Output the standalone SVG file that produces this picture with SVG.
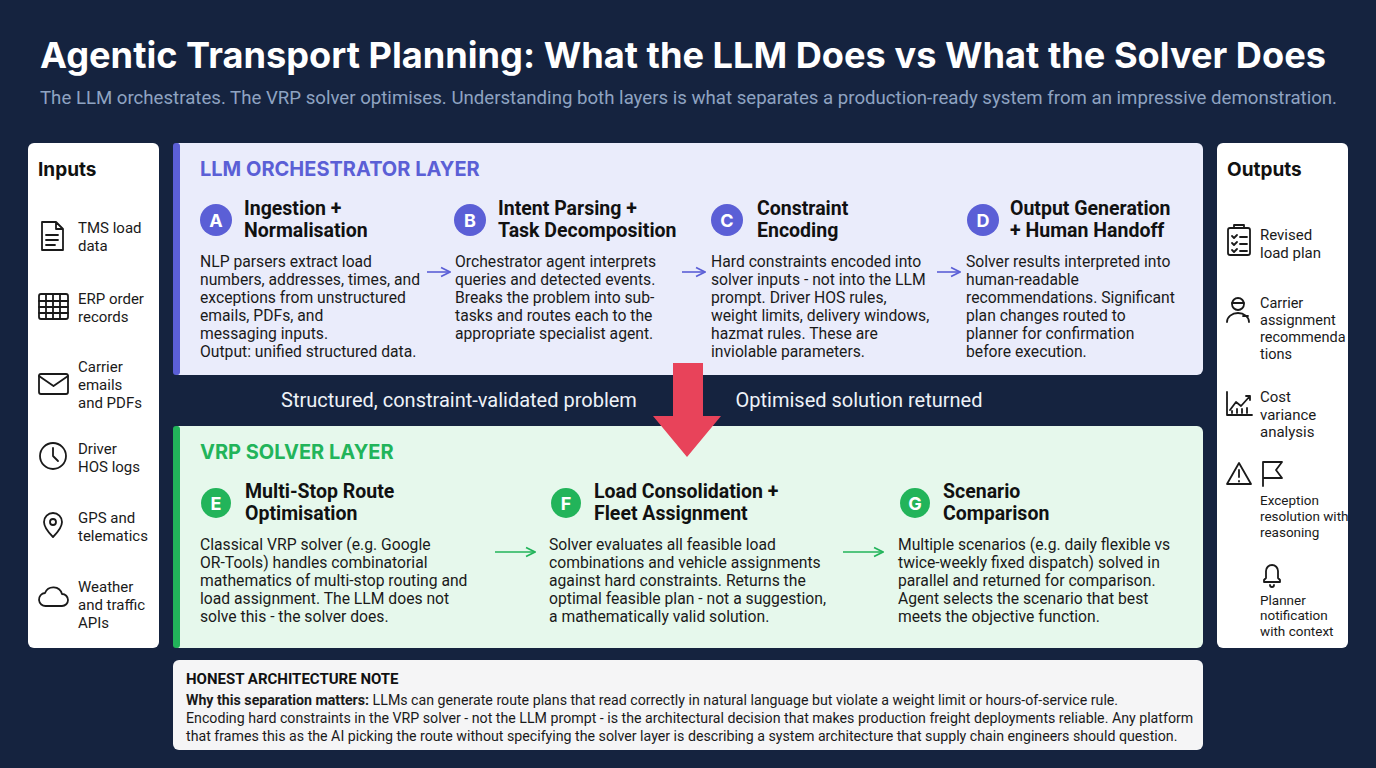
<svg xmlns="http://www.w3.org/2000/svg" width="1376" height="768" viewBox="0 0 1376 768">
<style>
.t{font-family:Inter,"Liberation Sans",sans-serif;font-weight:700}
.b{font-family:Roboto,"Liberation Sans",sans-serif;fill:#1a1a1a}
.h{font-family:Roboto,"Liberation Sans",sans-serif;font-weight:700;font-size:19.5px;fill:#111}
.body{font-size:15.7px}
.side{font-size:15px}
.ic{fill:none;stroke:#1a1a1a;stroke-width:1.8;stroke-linecap:round;stroke-linejoin:round}
.cl{font-family:Inter,"Liberation Sans",sans-serif;font-weight:700;font-size:18px;fill:#fff}
</style>
<defs>
<marker id="ap" viewBox="0 0 10 10" refX="9" refY="5" markerWidth="7" markerHeight="7" orient="auto"><path d="M1 1L9 5L1 9" fill="none" stroke="#5b5fd6" stroke-width="1.5"/></marker>
<marker id="ag" viewBox="0 0 10 10" refX="9" refY="5" markerWidth="7" markerHeight="7" orient="auto"><path d="M1 1L9 5L1 9" fill="none" stroke="#22b45a" stroke-width="1.5"/></marker>
</defs>
<rect width="1376" height="768" fill="#15233f"/>
<text x="40" y="68" class="t" font-size="36" fill="#fff" textLength="1286" lengthAdjust="spacingAndGlyphs">Agentic Transport Planning: What the LLM Does vs What the Solver Does</text>
<text x="40" y="104" font-family="Roboto,'Liberation Sans',sans-serif" font-size="18.5" fill="#8fa3c2" textLength="1297" lengthAdjust="spacingAndGlyphs">The LLM orchestrates. The VRP solver optimises. Understanding both layers is what separates a production-ready system from an impressive demonstration.</text>

<g id="inputs">
<rect x="28" y="143" width="131" height="505" rx="6" fill="#fff"/>
<text x="38" y="176" class="t" font-size="19" fill="#111">Inputs</text>
<path class="ic" d="M42 222h14l7 7v21h-21zM56 222v7h7M46 235h12M46 240h12M46 245h9"/>
<text class="b side"><tspan x="78" y="233">TMS load</tspan><tspan x="78" y="251">data</tspan></text>
<rect class="ic" x="39" y="294" width="29" height="25" rx="2"/><path class="ic" d="M39 301h29M39 307h29M39 313h29M46 294v25M53 294v25M60 294v25"/>
<text class="b side"><tspan x="78" y="304">ERP order</tspan><tspan x="78" y="322">records</tspan></text>
<rect class="ic" x="39" y="374" width="29" height="20" rx="2"/><path class="ic" d="M39 376l14.5 10l14.5-10"/>
<text class="b side"><tspan x="78" y="372">Carrier</tspan><tspan x="78" y="390">emails</tspan><tspan x="78" y="408">and PDFs</tspan></text>
<circle class="ic" cx="53" cy="456" r="13"/><path class="ic" d="M53 448v8l5 5"/>
<text class="b side"><tspan x="78" y="454">Driver</tspan><tspan x="78" y="472">HOS logs</tspan></text>
<path class="ic" d="M53 537s-9-9-9-15a9 9 0 0 1 18 0c0 6-9 15-9 15z"/><circle class="ic" cx="53" cy="522" r="3"/>
<text class="b side"><tspan x="78" y="523">GPS and</tspan><tspan x="78" y="541">telematics</tspan></text>
<path class="ic" d="M46 606h16a6 6 0 0 0 0-12a9 9 0 0 0-17-1a6 6 0 0 0 1 13z"/>
<text class="b side"><tspan x="78" y="592">Weather</tspan><tspan x="78" y="610">and traffic</tspan><tspan x="78" y="628">APIs</tspan></text>
</g>

<g id="llm-layer">
<rect x="173" y="143" width="1030" height="232" rx="6" fill="#eaecfb"/>
<rect x="173" y="143" width="7" height="232" rx="3" fill="#5b5fd6"/>
<text x="200" y="176" class="t" font-size="20" fill="#5b5fd6">LLM ORCHESTRATOR LAYER</text>
</g>
<g id="A"><circle cx="216" cy="220" r="16" fill="#5b5fd6"/><text x="216" y="226.5" text-anchor="middle" class="cl">A</text>
<text class="h"><tspan x="244" y="215">Ingestion +</tspan><tspan x="244" y="237">Normalisation</tspan></text>
<text class="b body"><tspan x="200" y="267">NLP parsers extract load</tspan><tspan x="200" y="285">numbers, addresses, times, and</tspan><tspan x="200" y="303">exceptions from unstructured</tspan><tspan x="200" y="321">emails, PDFs, and</tspan><tspan x="200" y="339">messaging inputs.</tspan><tspan x="200" y="357">Output: unified structured data.</tspan></text></g>
<g id="B"><circle cx="470" cy="220" r="16" fill="#5b5fd6"/><text x="470" y="226.5" text-anchor="middle" class="cl">B</text>
<text class="h"><tspan x="498" y="215">Intent Parsing +</tspan><tspan x="498" y="237">Task Decomposition</tspan></text>
<text class="b body"><tspan x="455" y="267">Orchestrator agent interprets</tspan><tspan x="455" y="285">queries and detected events.</tspan><tspan x="455" y="303">Breaks the problem into sub-</tspan><tspan x="455" y="321">tasks and routes each to the</tspan><tspan x="455" y="339">appropriate specialist agent.</tspan></text></g>
<g id="C"><circle cx="727" cy="220" r="16" fill="#5b5fd6"/><text x="727" y="226.5" text-anchor="middle" class="cl">C</text>
<text class="h"><tspan x="757" y="215">Constraint</tspan><tspan x="757" y="237">Encoding</tspan></text>
<text class="b body"><tspan x="711" y="267">Hard constraints encoded into</tspan><tspan x="711" y="285">solver inputs - not into the LLM</tspan><tspan x="711" y="303">prompt. Driver HOS rules,</tspan><tspan x="711" y="321">weight limits, delivery windows,</tspan><tspan x="711" y="339">hazmat rules. These are</tspan><tspan x="711" y="357">inviolable parameters.</tspan></text></g>
<g id="D"><circle cx="983" cy="220" r="16" fill="#5b5fd6"/><text x="983" y="226.5" text-anchor="middle" class="cl">D</text>
<text class="h"><tspan x="1010" y="215">Output Generation</tspan><tspan x="1010" y="237">+ Human Handoff</tspan></text>
<text class="b body"><tspan x="966" y="267">Solver results interpreted into</tspan><tspan x="966" y="285">human-readable</tspan><tspan x="966" y="303">recommendations. Significant</tspan><tspan x="966" y="321">plan changes routed to</tspan><tspan x="966" y="339">planner for confirmation</tspan><tspan x="966" y="357">before execution.</tspan></text></g>

<g id="vrp-layer">
<rect x="173" y="426" width="1030" height="222" rx="6" fill="#e6f8ec"/>
<rect x="173" y="426" width="7" height="222" rx="3" fill="#22b45a"/>
<text x="200" y="459" class="t" font-size="20" fill="#22b45a">VRP SOLVER LAYER</text>
</g>
<g id="E"><circle cx="216" cy="503" r="15" fill="#22b45a"/><text x="216" y="509.5" text-anchor="middle" class="cl">E</text>
<text class="h"><tspan x="245" y="498">Multi-Stop Route</tspan><tspan x="245" y="520">Optimisation</tspan></text>
<text class="b body"><tspan x="200" y="550">Classical VRP solver (e.g. Google</tspan><tspan x="200" y="568">OR-Tools) handles combinatorial</tspan><tspan x="200" y="586">mathematics of multi-stop routing and</tspan><tspan x="200" y="604">load assignment. The LLM does not</tspan><tspan x="200" y="622">solve this - the solver does.</tspan></text></g>
<g id="F"><circle cx="566" cy="503" r="15" fill="#22b45a"/><text x="566" y="509.5" text-anchor="middle" class="cl">F</text>
<text class="h"><tspan x="594" y="498">Load Consolidation +</tspan><tspan x="594" y="520">Fleet Assignment</tspan></text>
<text class="b body"><tspan x="549" y="550">Solver evaluates all feasible load</tspan><tspan x="549" y="568">combinations and vehicle assignments</tspan><tspan x="549" y="586">against hard constraints. Returns the</tspan><tspan x="549" y="604">optimal feasible plan - not a suggestion,</tspan><tspan x="549" y="622">a mathematically valid solution.</tspan></text></g>
<g id="G"><circle cx="915" cy="503" r="15" fill="#22b45a"/><text x="915" y="509.5" text-anchor="middle" class="cl">G</text>
<text class="h"><tspan x="943" y="498">Scenario</tspan><tspan x="943" y="520">Comparison</tspan></text>
<text class="b body"><tspan x="898" y="550">Multiple scenarios (e.g. daily flexible vs</tspan><tspan x="898" y="568">twice-weekly fixed dispatch) solved in</tspan><tspan x="898" y="586">parallel and returned for comparison.</tspan><tspan x="898" y="604">Agent selects the scenario that best</tspan><tspan x="898" y="622">meets the objective function.</tspan></text></g>

<g id="connectors">
<line x1="427" y1="272" x2="450" y2="272" stroke="#5b5fd6" stroke-width="1.6" marker-end="url(#ap)"/>
<line x1="682" y1="272" x2="705" y2="272" stroke="#5b5fd6" stroke-width="1.6" marker-end="url(#ap)"/>
<line x1="937" y1="272" x2="960" y2="272" stroke="#5b5fd6" stroke-width="1.6" marker-end="url(#ap)"/>
<line x1="495" y1="552" x2="535" y2="552" stroke="#22b45a" stroke-width="1.6" marker-end="url(#ag)"/>
<line x1="843" y1="552" x2="883" y2="552" stroke="#22b45a" stroke-width="1.6" marker-end="url(#ag)"/>
<path d="M673 363h30v53h18l-34 41l-34-41h20z" fill="#e8435a"/>
<text x="459" y="407" text-anchor="middle" font-family="Roboto,'Liberation Sans',sans-serif" font-size="20" fill="#eef2f8">Structured, constraint-validated problem</text>
<text x="859" y="407" text-anchor="middle" font-family="Roboto,'Liberation Sans',sans-serif" font-size="20" fill="#eef2f8">Optimised solution returned</text>
</g>

<g id="outputs">
<rect x="1217" y="143" width="131" height="505" rx="6" fill="#fff"/>
<text x="1227" y="176" class="t" font-size="19" fill="#111">Outputs</text>
<rect class="ic" x="1228" y="228" width="22" height="27" rx="2"/><path class="ic" d="M1234 228v-3h10v3M1232 236l2 2l3-3M1240 237h7M1232 243l2 2l3-3M1240 244h7M1232 250l2 2l3-3M1240 251h7"/>
<text class="b" font-size="15"><tspan x="1260" y="240">Revised</tspan><tspan x="1260" y="258">load plan</tspan></text>
<circle class="ic" cx="1238" cy="304" r="6"/><path class="ic" d="M1232 303h12M1227 322a11 9 0 0 1 22 0M1243 316h5"/>
<text class="b" font-size="14.5"><tspan x="1260" y="308">Carrier</tspan><tspan x="1260" y="325">assignment</tspan><tspan x="1260" y="342">recommenda</tspan><tspan x="1260" y="359">tions</tspan></text>
<path class="ic" d="M1227 392v23h25M1230 410l6-8l5 4l9-10M1246 396h4v4M1232 413v-2M1237 413v-4M1242 413v-4M1247 413v-5"/>
<text class="b" font-size="15"><tspan x="1260" y="402">Cost</tspan><tspan x="1260" y="420">variance</tspan><tspan x="1260" y="437">analysis</tspan></text>
<path class="ic" d="M1239 463l-12 21h24zM1239 470v7M1239 481v0.5"/>
<path class="ic" d="M1263 486v-24h19l-6 8l6 8h-19"/>
<text class="b" font-size="13.5"><tspan x="1260" y="505">Exception</tspan><tspan x="1260" y="521">resolution with</tspan><tspan x="1260" y="537">reasoning</tspan></text>
<path class="ic" d="M1264 582v-2l2-2v-7a6 6 0 0 1 12 0v7l2 2v2zM1270 585a2 2 0 0 0 4 0"/>
<text class="b" font-size="13.5"><tspan x="1260" y="605">Planner</tspan><tspan x="1260" y="620">notification</tspan><tspan x="1260" y="636">with context</tspan></text>
</g>

<g id="note">
<rect x="173" y="660" width="1030" height="90" rx="6" fill="#f5f5f6"/>
<text x="186" y="684" font-family="Roboto,'Liberation Sans',sans-serif" font-weight="700" font-size="15" fill="#111">HONEST ARCHITECTURE NOTE</text>
<text class="b" font-size="14.2"><tspan x="186" y="705"><tspan font-weight="700">Why this separation matters:</tspan> LLMs can generate route plans that read correctly in natural language but violate a weight limit or hours-of-service rule.</tspan><tspan x="186" y="723">Encoding hard constraints in the VRP solver - not the LLM prompt - is the architectural decision that makes production freight deployments reliable. Any platform</tspan><tspan x="186" y="741">that frames this as the AI picking the route without specifying the solver layer is describing a system architecture that supply chain engineers should question.</tspan></text>
</g>
</svg>
